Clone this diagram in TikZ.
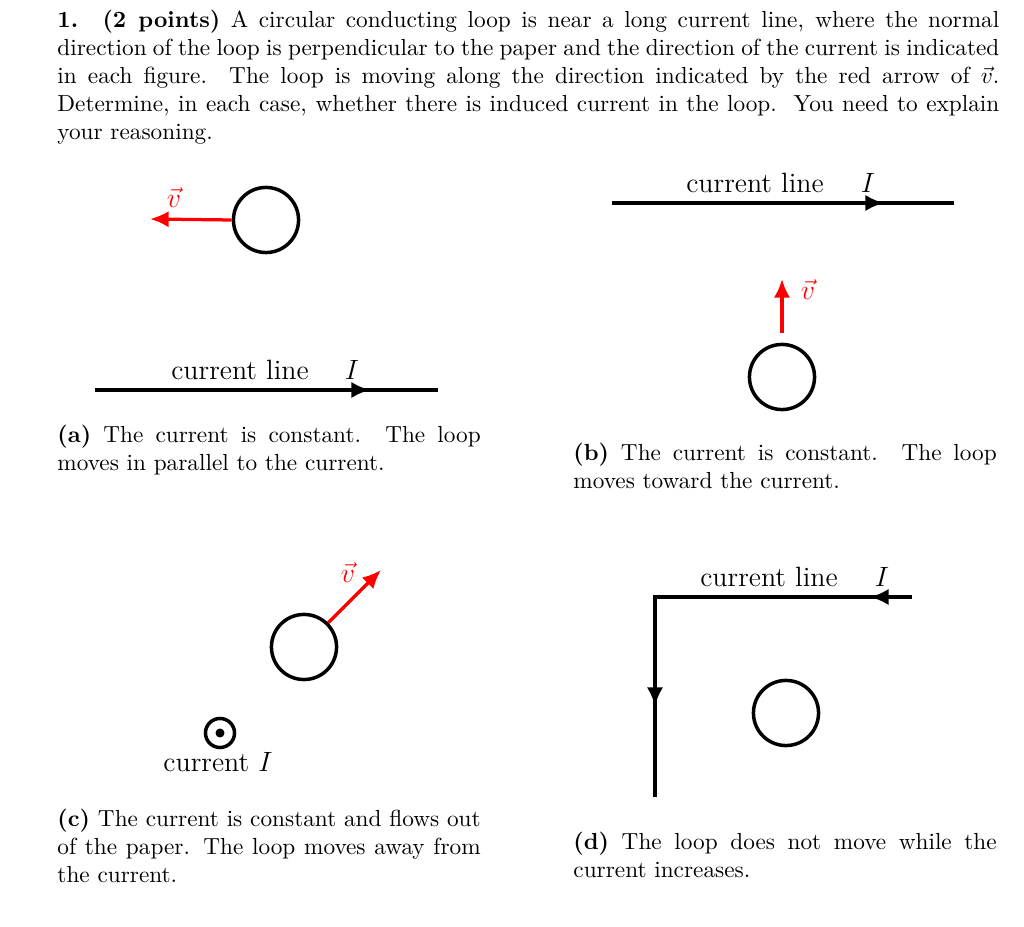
\documentclass[tikz,border=0pt]{standalone}
\usetikzlibrary{arrows.meta}
\begin{document}
\begin{tikzpicture}[x=0.43pt,y=-0.43pt,
  wire/.style={line width=1.4pt},
  vel/.style={red,line width=1.4pt,-{Latex[length=8pt,width=7pt]}},
  tip/.style={line width=1.4pt,-{Latex[length=8pt,width=7pt]}},
  loop/.style={draw,circle,line width=1.5pt,minimum size=28pt,inner sep=0pt},
  lbl/.style={font=\large},
  captext/.style={anchor=north west,text width=182pt,align=justify,inner sep=0pt}]
\useasboundingbox (0,0) rectangle (1024,927);
\node[anchor=north west,inner sep=0pt,text width=405pt,align=justify] (hdr) at (57,10)
{\textbf{1.\ \ (2 points)} A circular conducting loop is near a long current line, where the normal direction of the loop is perpendicular to the paper and the direction of the current is indicated in each figure.\ \ The loop is moving along the direction indicated by the red arrow of $\vec{v}$. Determine, in each case, whether there is induced current in the loop.\ \ You need to explain your reasoning.};
% (a)
\node[loop] (la) at (266,220) {};
\coordinate (va) at (150,219);
\draw[vel] (la.west) -- (va);
\node[red,lbl] (vla) at (174,198) {$\vec{v}$};
\coordinate (a1) at (95,390); \coordinate (a2) at (438,390); \coordinate (am) at (370,390);
\draw[wire] (a1) -- (a2);
\draw[tip] (a1) -- (am);
\node[lbl] (cla) at (240,370) {current line};
\node[lbl] (Ia) at (352,370) {$I$};
\node[captext] (capa) at (57,425) {\textbf{(a)} The current is constant.\ \ The loop moves in parallel to the current.};
% (b)
\coordinate (b1) at (612,203); \coordinate (b2) at (954,203); \coordinate (bm) at (884,203);
\draw[wire] (b1) -- (b2);
\draw[tip] (b1) -- (bm);
\node[lbl] (clb) at (755,183) {current line};
\node[lbl] (Ib) at (868,183) {$I$};
\node[loop] (lb) at (782,377) {};
\coordinate (vb0) at (782,333); \coordinate (vb) at (782,279);
\draw[vel] (vb0) -- (vb);
\node[red,lbl] (vlb) at (808,290) {$\vec{v}$};
\node[captext] (capb) at (573,443) {\textbf{(b)} The current is constant.\ \ The loop moves toward the current.};
% (c)
\node[loop] (lc) at (304,647) {};
\coordinate (vc) at (381,570);
\draw[vel] (lc.north east) -- (vc);
\node[red,lbl] (vlc) at (348,573) {$\vec{v}$};
\node[draw,circle,line width=1.5pt,minimum size=12.5pt,inner sep=0pt] (dot) at (220,733) {};
\fill (dot.center) circle (4.5);
\node[lbl] (clc) at (218,762) {current $I$};
\node[captext] (capc) at (57,809) {\textbf{(c)} The current is constant and flows out of the paper. The loop moves away from the current.};
% (d)
\coordinate (d1) at (912,597); \coordinate (d2) at (655,597); \coordinate (d3) at (655,797);
\coordinate (dm1) at (870,597); \coordinate (dm2) at (655,706);
\draw[wire,line join=miter] (d1) -- (d2) -- (d3);
\draw[tip] (d1) -- (dm1);
\draw[tip] (d2) -- (dm2);
\node[lbl] (cld) at (769,577) {current line};
\node[lbl] (Id) at (882,577) {$I$};
\node[loop] (ld) at (786,713) {};
\node[captext] (capd) at (573,832) {\textbf{(d)} The loop does not move while the\linebreak current increases.};
\end{tikzpicture}
\end{document}
